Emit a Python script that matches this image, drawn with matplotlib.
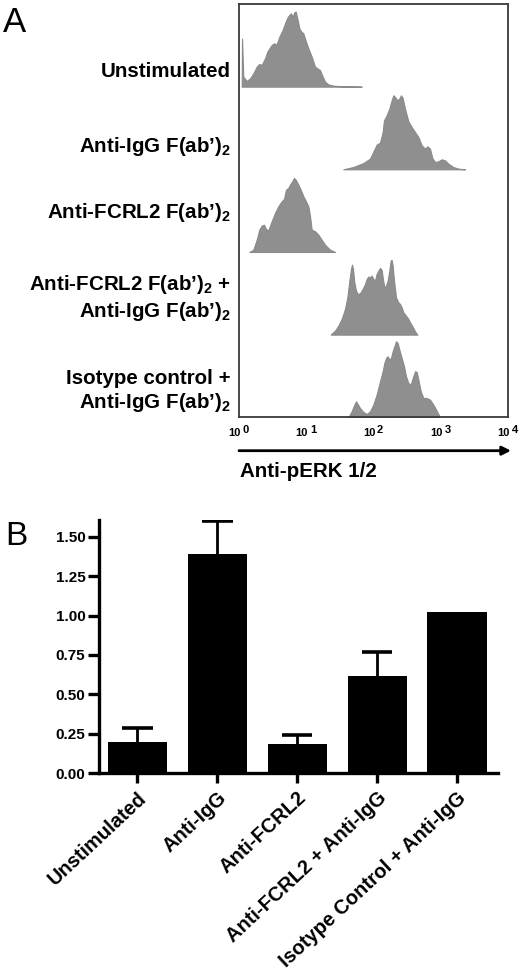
import numpy as np
import matplotlib
matplotlib.use("Agg")
import matplotlib.pyplot as plt
from matplotlib.transforms import ScaledTranslation

plt.rcParams['font.family'] = ['Liberation Sans', 'DejaVu Sans']
plt.rcParams['mathtext.fontset'] = 'custom'
plt.rcParams['mathtext.rm'] = 'Liberation Sans:bold'
plt.rcParams['mathtext.it'] = 'Liberation Sans:bold'
plt.rcParams['mathtext.bf'] = 'Liberation Sans:bold'
plt.rcParams['mathtext.default'] = 'rm'

# ---------------- Panel A data: flow histograms (log10 intensity, relative counts) ----------
unstim_log = [0.040, 0.045, 0.064, 0.114, 0.164, 0.213, 0.263, 0.302, 0.337, 0.387, 0.421,
              0.486, 0.520, 0.560, 0.600, 0.649, 0.684, 0.719, 0.748, 0.773, 0.798, 0.823,
              0.843, 0.867, 0.897, 0.927, 0.957, 0.996, 1.031, 1.081, 1.130, 1.165, 1.204,
              1.244, 1.279, 1.328, 1.403, 1.551, 1.824]
unstim_cnt = [0, 48, 10, 5.7, 8.3, 13.3, 20, 22.7, 21.7, 28.3, 35,
              41.7, 43.3, 42.3, 50, 56.7, 63.3, 69, 71.7, 73.3, 70, 74.3,
              75, 68.3, 58.3, 55, 53.3, 45, 38.3, 30, 20, 18.3, 16.7,
              10, 5, 2.3, 1, 0.3, 0]

igg_log = [1.551, 1.700, 1.849, 1.948, 2.007, 2.047, 2.097, 2.136, 2.156, 2.196, 2.235,
           2.270, 2.295, 2.320, 2.354, 2.384, 2.409, 2.434, 2.468, 2.518, 2.568, 2.617,
           2.667, 2.716, 2.766, 2.800, 2.840, 2.875, 2.915, 2.964, 3.014, 3.063, 3.113,
           3.187, 3.261, 3.361]
igg_cnt = [0, 2.3, 6.3, 10.7, 19, 24.7, 26.7, 37.3, 49, 54, 60.7,
           69, 74, 72.3, 69, 70.7, 74, 71.3, 60.7, 48, 42.3, 37.3,
           32.3, 24, 20.7, 23, 20.7, 11.3, 7.3, 8, 10, 9, 5.7,
           2.3, 0.7, 0]

fcrl2_log = [0.154, 0.213, 0.263, 0.302, 0.337, 0.372, 0.401, 0.436, 0.486, 0.535, 0.585,
             0.634, 0.669, 0.699, 0.734, 0.758, 0.793, 0.818, 0.843, 0.882, 0.917, 0.957,
             0.996, 1.031, 1.056, 1.081, 1.130, 1.180, 1.229, 1.279, 1.353, 1.428]
fcrl2_cnt = [0, 2.3, 12.3, 22.3, 26.3, 27.3, 23, 21.7, 30.7, 39, 45.7,
             50.7, 53, 62.3, 64, 67.3, 70.7, 74, 72.3, 67.3, 62.3, 55.7,
             50.7, 45.7, 35.7, 22.3, 20.7, 17.3, 12.3, 7.3, 2.3, 0]

combo_log = [1.363, 1.428, 1.477, 1.527, 1.576, 1.611, 1.641, 1.665, 1.680, 1.695, 1.715,
             1.740, 1.765, 1.799, 1.839, 1.874, 1.899, 1.923, 1.948, 1.973, 1.997, 2.022,
             2.047, 2.072, 2.097, 2.121, 2.136, 2.161, 2.186, 2.211, 2.235, 2.255, 2.270,
             2.285, 2.305, 2.335, 2.369, 2.394, 2.419, 2.444, 2.483, 2.518, 2.543, 2.582,
             2.617, 2.652]
combo_cnt = [0, 4, 9, 15.7, 25.7, 37.3, 54, 65.7, 70, 65.7, 52.3,
             44, 40.7, 41.3, 45.7, 50.7, 55.7, 58, 57.3, 59, 55.7, 54,
             60.7, 64, 66.7, 64.7, 57.3, 47.3, 49, 54, 64, 74, 74.7,
             69, 54, 37.3, 32.3, 30.7, 27.3, 22.3, 19, 15.7, 12.3, 8,
             3.3, 0]

iso_log = [1.626, 1.675, 1.715, 1.740, 1.765, 1.799, 1.849, 1.899, 1.948, 1.997, 2.047,
           2.097, 2.136, 2.161, 2.186, 2.211, 2.235, 2.260, 2.285, 2.310, 2.335, 2.359,
           2.384, 2.419, 2.454, 2.483, 2.518, 2.553, 2.592, 2.617, 2.642, 2.667, 2.702,
           2.741, 2.791, 2.840, 2.889, 2.939, 2.989]
iso_cnt = [0, 6, 12.7, 16, 13.3, 9.3, 5.3, 3.3, 6, 12.7, 22.7,
           36, 46, 54.3, 59.3, 61, 57.7, 59.3, 66, 71, 76, 74.3,
           67.7, 59.3, 51, 41, 34.3, 32.7, 41, 46, 45.3, 37.7, 26,
           19.3, 19.3, 17.7, 12.7, 6.7, 0]

hist_labels = ["Unstimulated",
               "Anti-IgG F(ab’)$_2$",
               "Anti-FCRL2 F(ab’)$_2$",
               "Anti-FCRL2 F(ab’)$_2$ +\nAnti-IgG F(ab’)$_2$",
               "Isotype control +\nAnti-IgG F(ab’)$_2$"]
hist_x = [unstim_log, igg_log, fcrl2_log, combo_log, iso_log]
hist_y = [unstim_cnt, igg_cnt, fcrl2_cnt, combo_cnt, iso_cnt]
decade_exps = [0, 1, 2, 3, 4]
x_axis_label = "Anti-pERK 1/2"

# ---------------- Panel B data ----------------
bar_categories = ["Unstimulated", "Anti-IgG", "Anti-FCRL2",
                  "Anti-FCRL2 + Anti-IgG", "Isotype Control + Anti-IgG"]
bar_means = [0.197, 1.388, 0.186, 0.614, 1.021]
bar_err_up = [0.089, 0.212, 0.053, 0.153, 0.0]
bar_yticks = [0.00, 0.25, 0.50, 0.75, 1.00, 1.25, 1.50]

W, H = 520, 972
fig = plt.figure(figsize=(W / 100, H / 100), dpi=100)

def fx(px):
    return px / W

def fy(py):
    return 1 - py / H

# ---------------- Panel A ----------------
box_top, box_bot, box_l, box_r = 4, 417.3, 239, 508
axA = fig.add_axes([fx(box_l), fy(box_bot), fx(box_r - box_l), (box_bot - box_top) / H])
axA.set_xscale('log')
axA.set_xlim(1, 1e4)
axA.set_ylim(0, 5)
lane_full = 82.6
gray = '#8f8f8f'
for i, (lx, cy) in enumerate(zip(hist_x, hist_y)):
    base = 4 - i
    xs = 10 ** np.array(lx)
    ys = base + np.array(cy) / lane_full
    axA.fill_between(xs, base, ys, color=gray, lw=0.8, edgecolor='#8a8a8a')
axA.set_xticks([])
axA.set_yticks([])
axA.minorticks_off()
for s in axA.spines.values():
    s.set_color('#3a3a3a')
    s.set_linewidth(1.3)

# decade labels 10^n
trans = axA.get_xaxis_transform()
for e in decade_exps:
    t1 = trans + ScaledTranslation(1.2 / 72, -13.6 / 72, fig.dpi_scale_trans)
    axA.text(10 ** e, 0, "10", transform=t1, ha='right', va='baseline',
             fontsize=8, fontweight='bold', clip_on=False)
    t2 = trans + ScaledTranslation(2.6 / 72, -11.0 / 72, fig.dpi_scale_trans)
    axA.text(10 ** e, 0, str(e), transform=t2, ha='left', va='baseline',
             fontsize=8, fontweight='bold', clip_on=False)

# arrow and axis label
axA.annotate('', xy=(511, H - 450.7), xytext=(239, H - 450.7),
             xycoords='figure pixels', textcoords='figure pixels',
             arrowprops=dict(arrowstyle='-|>', lw=2.0, color='black',
                             mutation_scale=13, shrinkA=0, shrinkB=0))
fig.text(fx(240), fy(476.7), x_axis_label, fontsize=14.8, fontweight='bold',
         ha='left', va='baseline')

# lane labels (baseline of the last line of each label)
label_baselines = [76.7, 151.7, 218.3, 316.7, 408.3]
for lab, yb in zip(hist_labels, label_baselines):
    fig.text(fx(230.5), fy(yb), lab, fontsize=14.8, fontweight='bold',
             ha='right', va='baseline', linespacing=1.22, multialignment='right')

fig.text(fx(3), fy(32), "A", fontsize=25, ha='left', va='baseline')

# ---------------- Panel B ----------------
b_bot, b_top, b_l, b_r = 773, 520, 98.5, 498.3
axB = fig.add_axes([fx(b_l), fy(b_bot), fx(b_r - b_l), (b_bot - b_top) / H])
xpos = np.arange(len(bar_categories))
means = np.array(bar_means)
errs = np.array(bar_err_up)
axB.bar(xpos, means, width=0.74, color='black', zorder=2)
has_err = errs > 0
axB.vlines(xpos[has_err], means[has_err], means[has_err] + errs[has_err],
           color='black', lw=2.0, zorder=1)
axB.hlines(means[has_err] + errs[has_err], xpos[has_err] - 0.19, xpos[has_err] + 0.19,
           color='black', lw=2.6, zorder=1)
axB.set_xlim(-0.488, 4.517)
axB.set_ylim(0, 1.607)
axB.set_yticks(bar_yticks)
axB.set_yticklabels([f"{v:.2f}" for v in bar_yticks], fontsize=11, fontweight='bold')
axB.set_xticks(xpos)
axB.set_xticklabels(bar_categories, rotation=43, ha='right', va='top',
                    rotation_mode='anchor', fontsize=14.4, fontweight='bold')
shift = ScaledTranslation(-3.5 / 72, 0, fig.dpi_scale_trans)
for lbl in axB.get_xticklabels():
    lbl.set_transform(lbl.get_transform() + shift)
axB.tick_params(axis='y', length=8, width=2.4, pad=1.5)
axB.tick_params(axis='x', length=7.5, width=2.4, pad=3.5)
for side in ['top', 'right']:
    axB.spines[side].set_visible(False)
for side in ['left', 'bottom']:
    axB.spines[side].set_linewidth(2.4)

fig.text(fx(5), fy(545), "B", fontsize=24, ha='left', va='baseline')

fig.savefig("out.png", dpi=100)
